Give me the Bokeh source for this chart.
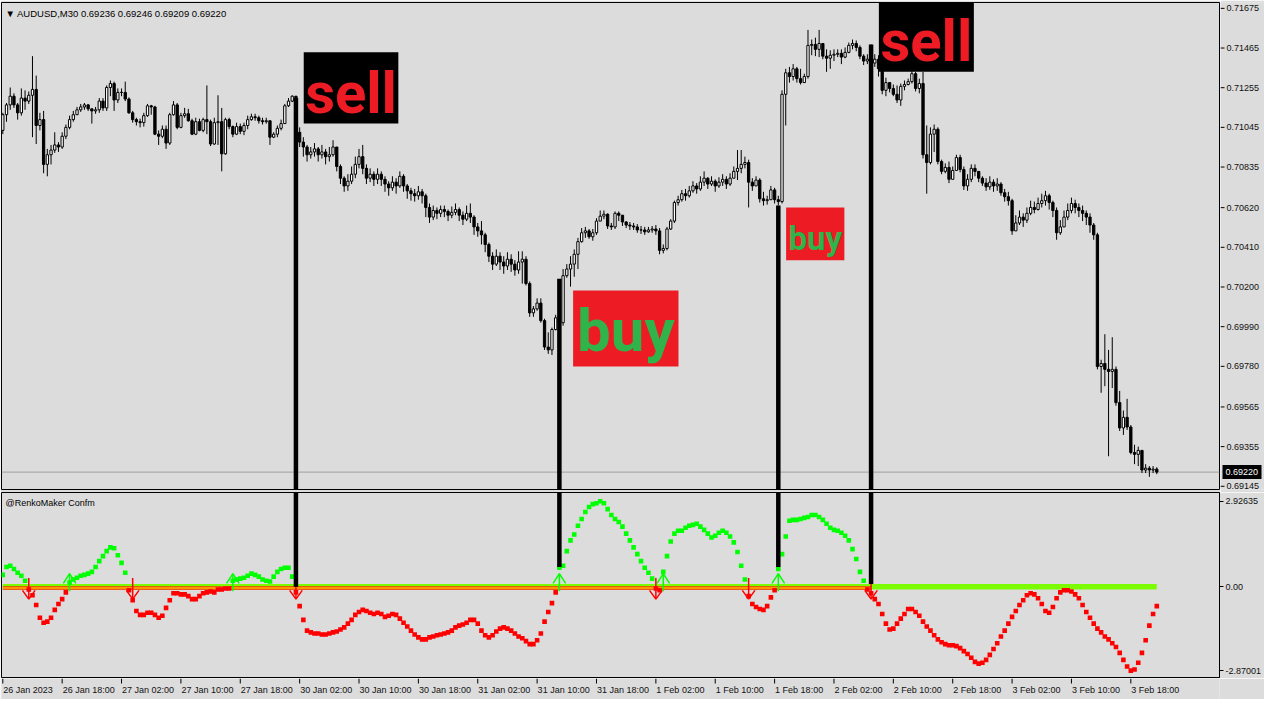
import numpy as np
from bokeh.plotting import figure
from bokeh.layouts import column, row
from bokeh.models import Range1d, FixedTicker, Label, Span, ColumnDataSource
from bokeh.core.properties import value
from bokeh.embed import file_html
from bokeh.resources import INLINE

BG = "#dcdcdc"
TICK_FONT = "Liberation Sans"

# ---------------- data (AUDUSD M30, prices in points = 1e-5) ----------------
first_open = 71029
close_pts = [
    71112, 71164, 71210, 71164, 71122, 71200, 71184, 71215, 71246, 71055,
    71086, 70849, 70900, 70925, 70952, 70941, 70998, 71045, 71086, 71112,
    71138, 71153, 71164, 71143, 71132, 71138, 71184, 71148, 71256, 71277,
    71190, 71230, 71230, 71195, 71122, 71086, 71075, 71070, 71107, 71159,
    71153, 71009, 70998, 71035, 70962, 71112, 71164, 71045, 71107, 71117,
    71080, 71009, 71075, 71029, 71086, 71075, 70957, 71070, 71075, 70905,
    71086, 71049, 71009, 71049, 71024, 71055, 71086, 71101, 71096, 71080,
    71075, 71080, 70993, 71009, 71040, 71065, 71159, 71184, 71210, 71019,
    70967, 70941, 70900, 70915, 70931, 70900, 70915, 70890, 70900, 70941,
    70838, 70776, 70735, 70760, 70797, 70849, 70890, 70828, 70776, 70797,
    70770, 70797, 70770, 70745, 70725, 70755, 70735, 70786, 70735, 70709,
    70694, 70683, 70704, 70683, 70621, 70570, 70605, 70590, 70610, 70600,
    70580, 70595, 70610, 70580, 70559, 70590, 70570, 70518, 70497, 70476,
    70425, 70363, 70321, 70363, 70332, 70311, 70347, 70321, 70290, 70332,
    70347, 70218, 70063, 70084, 70115, 70022, 69882, 69867, 69975, 70037,
    70011, 70260, 70295, 70321, 70373, 70440, 70487, 70497, 70466, 70487,
    70549, 70575, 70585, 70523, 70518, 70590, 70580, 70544, 70528, 70523,
    70518, 70502, 70502, 70492, 70502, 70507, 70497, 70394, 70404, 70507,
    70549, 70647, 70662, 70694, 70683, 70709, 70735, 70719, 70755, 70776,
    70745, 70760, 70735, 70755, 70770, 70745, 70776, 70812, 70828, 70849,
    70859, 70755, 70735, 70766, 70667, 70657, 70662, 70714, 70662, 70652,
    71220, 71334, 71314, 71355, 71303, 71282, 71314, 71479, 71484, 71458,
    71489, 71422, 71411, 71427, 71432, 71437, 71417, 71442, 71479, 71489,
    71468, 71422, 71396, 71406, 71385, 71406, 71355, 71241, 71282, 71251,
    71220, 71190, 71262, 71272, 71287, 71329, 71251, 71277, 70900, 70859,
    71009, 71035, 70864, 70812, 70833, 70770, 70817, 70885, 70822, 70735,
    70770, 70828, 70812, 70776, 70750, 70730, 70755, 70735, 70745, 70699,
    70678, 70657, 70497, 70539, 70570, 70554, 70590, 70621, 70610, 70642,
    70657, 70683, 70647, 70605, 70487, 70518, 70570, 70605, 70642, 70621,
    70605, 70590, 70570, 70528, 70476, 69779, 69795, 69764, 69753, 69764,
    69588, 69454, 69510, 69459, 69324, 69314, 69335, 69231, 69241, 69231,
    69236, 69220]
high_pts = [
    71122, 71174, 71256, 71225, 71174, 71251, 71241, 71235, 71422, 71319,
    71122, 71132, 70931, 70952, 71019, 70967, 71019, 71060, 71107, 71132,
    71153, 71169, 71174, 71169, 71143, 71153, 71200, 71200, 71267, 71293,
    71287, 71251, 71251, 71287, 71204, 71132, 71096, 71091, 71122, 71169,
    71164, 71159, 71029, 71055, 71055, 71122, 71184, 71174, 71122, 71148,
    71143, 71091, 71096, 71091, 71096, 71267, 71086, 71096, 71215, 71148,
    71096, 71096, 71055, 71070, 71065, 71070, 71107, 71117, 71117, 71107,
    71096, 71096, 71014, 71019, 71055, 71086, 71169, 71200, 71215, 71210,
    71045, 70993, 70952, 70941, 70962, 70941, 70952, 70931, 70941, 70977,
    70941, 70849, 70786, 70797, 70838, 70890, 70931, 70952, 70849, 70828,
    70812, 70828, 70812, 70786, 70760, 70786, 70776, 70812, 70797, 70745,
    70725, 70719, 70735, 70719, 70694, 70642, 70631, 70621, 70631, 70631,
    70610, 70626, 70642, 70621, 70600, 70631, 70642, 70580, 70539, 70549,
    70487, 70435, 70384, 70399, 70384, 70363, 70384, 70373, 70342, 70389,
    70389, 70363, 70229, 70099, 70140, 70140, 70032, 69960, 69985, 70053,
    70234, 70295, 70321, 70363, 70399, 70460, 70512, 70518, 70507, 70507,
    70564, 70605, 70605, 70590, 70539, 70600, 70600, 70570, 70549, 70544,
    70539, 70533, 70523, 70518, 70518, 70523, 70528, 70512, 70425, 70518,
    70559, 70657, 70683, 70714, 70719, 70735, 70760, 70750, 70786, 70812,
    70781, 70786, 70770, 70781, 70797, 70786, 70802, 70838, 70925, 70925,
    70890, 70874, 70776, 70786, 70776, 70704, 70683, 70735, 70725, 70683,
    71241, 71355, 71365, 71380, 71365, 71355, 71329, 71561, 71510, 71520,
    71561, 71484, 71458, 71453, 71458, 71458, 71458, 71468, 71494, 71510,
    71505, 71479, 71432, 71432, 71484, 71432, 71427, 71324, 71308, 71282,
    71272, 71267, 71277, 71293, 71303, 71345, 71339, 71303, 71339, 71055,
    71045, 71060, 71045, 70874, 70854, 70864, 70838, 70900, 70900, 70838,
    70797, 70849, 70849, 70812, 70786, 70776, 70786, 70770, 70776, 70755,
    70719, 70704, 70667, 70580, 70605, 70590, 70621, 70657, 70652, 70673,
    70694, 70709, 70694, 70657, 70621, 70554, 70605, 70642, 70673, 70662,
    70642, 70631, 70605, 70590, 70539, 70487, 69815, 69950, 69867, 69934,
    69779, 69650, 69546, 69608, 69469, 69365, 69355, 69330, 69262, 69252,
    69252, 69246]
low_pts = [
    71009, 71075, 71138, 71148, 71086, 71107, 71138, 71169, 70993, 70957,
    71029, 70802, 70786, 70849, 70910, 70915, 70931, 70983, 71035, 71075,
    71112, 71127, 71138, 71132, 71065, 71117, 71122, 71132, 71132, 71210,
    71132, 71174, 71210, 71184, 71117, 71070, 71055, 71045, 71049, 71101,
    71112, 71004, 70952, 70988, 70931, 70952, 71107, 71035, 71040, 71096,
    71075, 71004, 71004, 71024, 71019, 71009, 70946, 70952, 70952, 70812,
    70900, 71035, 70993, 71004, 71009, 71004, 71035, 71080, 71080, 71065,
    71060, 71065, 70952, 70988, 70993, 71029, 71065, 71153, 71179, 70993,
    70941, 70890, 70864, 70880, 70890, 70864, 70880, 70849, 70864, 70890,
    70812, 70745, 70704, 70709, 70745, 70776, 70828, 70797, 70745, 70755,
    70735, 70745, 70735, 70704, 70683, 70709, 70694, 70725, 70704, 70667,
    70657, 70652, 70662, 70642, 70570, 70539, 70554, 70559, 70570, 70570,
    70549, 70564, 70580, 70549, 70528, 70549, 70539, 70476, 70466, 70425,
    70384, 70332, 70290, 70311, 70290, 70270, 70290, 70280, 70260, 70270,
    70218, 70208, 70042, 70042, 70074, 70011, 69867, 69846, 69840, 69970,
    69934, 69995, 70249, 70202, 70254, 70295, 70435, 70460, 70455, 70445,
    70476, 70549, 70559, 70507, 70502, 70507, 70549, 70523, 70512, 70502,
    70502, 70487, 70481, 70476, 70487, 70487, 70476, 70373, 70378, 70394,
    70502, 70539, 70631, 70652, 70657, 70673, 70699, 70694, 70709, 70735,
    70719, 70735, 70704, 70725, 70735, 70719, 70735, 70776, 70766, 70802,
    70828, 70621, 70709, 70735, 70647, 70631, 70636, 70667, 70642, 70631,
    70642, 71055, 71282, 71293, 71282, 71272, 71293, 71303, 71427, 71422,
    71417, 71406, 71339, 71355, 71396, 71417, 71380, 71411, 71437, 71458,
    71448, 71406, 71375, 71380, 71365, 71365, 71314, 71220, 71210, 71230,
    71210, 71174, 71159, 71241, 71267, 71277, 71235, 71225, 70880, 70694,
    70849, 70915, 70849, 70797, 70802, 70750, 70791, 70849, 70807, 70714,
    70709, 70755, 70786, 70755, 70735, 70709, 70714, 70704, 70709, 70683,
    70652, 70631, 70476, 70497, 70528, 70518, 70539, 70580, 70590, 70605,
    70621, 70631, 70610, 70570, 70450, 70476, 70518, 70554, 70590, 70590,
    70570, 70549, 70528, 70487, 70450, 69764, 69640, 69675, 69304, 69665,
    69572, 69438, 69417, 69443, 69314, 69262, 69252, 69215, 69215, 69195,
    69215, 69209]

# @RenkoMaker Confm indicator value per bar
indicator = [
    0.41, 0.68, 0.72, 0.61, 0.48, 0.38, 0.21, -0.09, -0.29, -0.62,
    -1.06, -1.23, -1.19, -1.06, -0.79, -0.59, -0.42, -0.19, 0.15, 0.25,
    0.31, 0.38, 0.41, 0.45, 0.51, 0.68, 0.88, 1.05, 1.22, 1.35,
    1.32, 1.08, 0.82, 0.48, -0.12, -0.46, -0.83, -0.96, -0.96, -0.89,
    -0.89, -0.96, -1.06, -0.99, -0.72, -0.46, -0.22, -0.22, -0.26, -0.26,
    -0.32, -0.42, -0.42, -0.32, -0.22, -0.19, -0.16, -0.19, -0.09, -0.09,
    -0.06, -0.06, 0.21, 0.25, 0.28, 0.31, 0.38, 0.45, 0.41, 0.35,
    0.25, 0.21, 0.18, 0.35, 0.51, 0.61, 0.65, 0.65, 0.35, -0.19,
    -0.66, -1.13, -1.50, -1.56, -1.60, -1.60, -1.63, -1.63, -1.60, -1.56,
    -1.53, -1.46, -1.39, -1.26, -1.13, -0.96, -0.86, -0.79, -0.83, -0.89,
    -0.93, -0.89, -0.93, -1.03, -0.99, -0.93, -0.96, -1.09, -1.23, -1.36,
    -1.50, -1.63, -1.73, -1.80, -1.80, -1.73, -1.70, -1.66, -1.63, -1.60,
    -1.56, -1.50, -1.39, -1.33, -1.29, -1.23, -1.13, -1.13, -1.26, -1.50,
    -1.66, -1.73, -1.66, -1.53, -1.43, -1.39, -1.43, -1.50, -1.60, -1.70,
    -1.76, -1.86, -1.96, -1.96, -1.83, -1.60, -1.19, -0.86, -0.56, -0.19,
    0.65, 0.72, 1.22, 1.59, 1.79, 2.09, 2.32, 2.56, 2.73, 2.83,
    2.86, 2.93, 2.86, 2.66, 2.46, 2.32, 2.22, 2.06, 1.82, 1.59,
    1.35, 1.12, 0.88, 0.65, 0.48, 0.28, -0.06, -0.12, 0.51, 1.05,
    1.55, 1.82, 1.92, 1.92, 2.02, 2.09, 2.12, 2.16, 2.06, 1.95,
    1.82, 1.69, 1.75, 1.85, 1.92, 1.85, 1.72, 1.52, 1.19, 0.72,
    0.25, -0.32, -0.59, -0.69, -0.76, -0.79, -0.66, -0.36, -0.12, 0.61,
    1.12, 1.72, 2.26, 2.29, 2.29, 2.32, 2.36, 2.39, 2.46, 2.46,
    2.39, 2.29, 2.16, 2.02, 1.95, 1.92, 1.85, 1.75, 1.59, 1.29,
    0.95, 0.51, 0.21, -0.09, -0.22, -0.42, -0.59, -0.93, -1.26, -1.46,
    -1.43, -1.26, -1.09, -0.93, -0.76, -0.76, -0.86, -0.99, -1.19, -1.36,
    -1.50, -1.66, -1.80, -1.90, -1.96, -2.00, -2.00, -2.03, -2.10, -2.20,
    -2.30, -2.43, -2.57, -2.63, -2.60, -2.50, -2.33, -2.13, -1.93, -1.70,
    -1.50, -1.26, -1.03, -0.83, -0.62, -0.46, -0.29, -0.22, -0.26, -0.39,
    -0.59, -0.83, -0.89, -0.69, -0.39, -0.19, -0.12, -0.12, -0.16, -0.26,
    -0.39, -0.62, -0.86, -1.06, -1.26, -1.43, -1.56, -1.70, -1.80, -1.93,
    -2.06, -2.26, -2.50, -2.73, -2.87, -2.83, -2.60, -2.26, -1.83, -1.33,
    -0.93, -0.66]

time_tick_bars = list(range(0, 305, 16))
time_labels = ["26 Jan 2023", "26 Jan 18:00", "27 Jan 02:00", "27 Jan 10:00",
               "27 Jan 18:00", "30 Jan 02:00", "30 Jan 10:00", "30 Jan 18:00",
               "31 Jan 02:00", "31 Jan 10:00", "31 Jan 18:00", "1 Feb 02:00",
               "1 Feb 10:00", "1 Feb 18:00", "2 Feb 02:00", "2 Feb 10:00",
               "2 Feb 18:00", "3 Feb 02:00", "3 Feb 10:00", "3 Feb 18:00"]
price_ticks = [0.71675, 0.71465, 0.71255, 0.71045, 0.70835, 0.70620, 0.70410,
               0.70200, 0.69990, 0.69780, 0.69565, 0.69355, 0.69145]
ind_ticks = [2.92635, 0.0, -2.87001]
ind_tick_labels = ["2.92635", "0.00", "-2.87001"]

buy_arrow_bars = [18, 62, 150, 178, 209]
sell_arrow_bars = [7, 35, 79, 176, 201, 234]
signal_bars = [79, 150, 209, 234]
signal_top = [0.71200, 0.70244, 0.70631, 0.71484]
signal_ind_end = [0.0, 0.68, 0.68, 0.10]

note_text = ["sell", "buy", "buy", "sell"]
note_left = [81.1, 153.7, 211.1, 236.1]
note_right = [106.6, 182.1, 226.8, 261.7]
note_top = [0.71442, 0.70182, 0.70621, 0.71760]
note_bottom = [0.71065, 0.69779, 0.70342, 0.71339]
note_base = [0.71117, 0.69856, 0.70394, 0.71390]
note_size = [58, 60, 33, 58]
note_fill = ["#000000", "#ed1c24", "#ed1c24", "#000000"]
note_color = ["#ed1c24", "#2fb34a", "#2fb34a", "#ed1c24"]

header_text = "\u25bc AUDUSD,M30 0.69236 0.69246 0.69209 0.69220"
ind_name = "@RenkoMaker Confm"

# ---------------- derived series ----------------
n = len(close_pts)
bars = list(range(n))
o = np.array([first_open] + close_pts[:-1]) / 1e5
c = np.array(close_pts) / 1e5
h = np.maximum.reduce([np.array(high_pts) / 1e5, o, c])
l = np.minimum.reduce([np.array(low_pts) / 1e5, o, c])
body_top = np.maximum(o, c)
body_bot = np.minimum(o, c)
body_fill = ["white" if cc >= oo else "black" for oo, cc in zip(o, c)]

# ---------------- layout constants ----------------
X0, X1 = -0.35, 327.9
FW = 1218
AXW = 44
MAIN_FH = 487
IND_FH = 185
STRIP_H = 21
Y0, Y1 = 0.69128, 0.71706
IY0, IY1 = -3.104, 3.228
dx = (X1 - X0) / FW
dy = (Y1 - Y0) / MAIN_FH
dyi = (IY1 - IY0) / IND_FH

xr = Range1d(X0, X1)
yr = Range1d(Y0, Y1)

base_kw = dict(toolbar_location=None, output_backend="svg", tools="",
               background_fill_color=BG, border_fill_color=BG)


def txt(fig, x, y, text, color="#111111", size="9px", align="left"):
    fig.text(x=x, y=y, text=text, text_align=align, text_baseline="middle",
             text_font=value(TICK_FONT), text_font_size=size, text_color=color)


# ---------------- main price chart ----------------
main = figure(frame_width=FW, frame_height=MAIN_FH, x_range=xr, y_range=yr,
              x_axis_location=None, y_axis_location=None,
              min_border_left=1, min_border_right=1,
              min_border_top=2, min_border_bottom=3,
              outline_line_color="black", **base_kw)
main.grid.visible = False

main.add_layout(Span(location=c[-1], dimension="width", line_color="#a0a0a0",
                     line_width=1, level="underlay"))

src = ColumnDataSource(dict(x=bars, top=body_top, bottom=body_bot,
                            high=h, low=l, fill=body_fill))
main.segment(x0="x", y0="high", x1="x", y1="low", source=src,
             line_color="black", line_width=1)
main.vbar(x="x", width=0.62, top="top", bottom="bottom", source=src,
          fill_color="fill", line_color="black", line_width=1)

main.segment(x0=signal_bars, y0=signal_top, x1=signal_bars,
             y1=[Y0 - 0.001] * len(signal_bars), line_color="black", line_width=4.5)

main.quad(left=note_left, right=note_right, top=note_top, bottom=note_bottom,
          fill_color=note_fill, line_color=None)
for t, lft, rgt, base, size, col in zip(note_text, note_left, note_right,
                                        note_base, note_size, note_color):
    main.add_layout(Label(x=(lft + rgt) / 2, y=base + 0.36 * size * dy, text=t,
                          text_align="center", text_baseline="alphabetic",
                          text_font="Roboto", text_font_style="bold",
                          text_font_size="%dpx" % size, text_color=col))

main.add_layout(Label(x=X0 + 4 * dx, y=Y1 - 11 * dy, text=header_text,
                      text_baseline="middle", text_align="left",
                      text_font=TICK_FONT, text_font_size="9.5px",
                      text_color="black"))

# right price scale (own panel sharing the price range)
axfig = figure(frame_width=AXW, frame_height=MAIN_FH, x_range=Range1d(0, AXW),
               y_range=yr, x_axis_location=None, y_axis_location=None,
               min_border_left=0, min_border_right=0,
               min_border_top=2, min_border_bottom=3,
               outline_line_color=None, **base_kw)
axfig.grid.visible = False
axfig.segment(x0=0, y0=price_ticks, x1=4, y1=price_ticks, line_color="black",
              line_width=1)
txt(axfig, 6, price_ticks, ["%.5f" % t for t in price_ticks])
cp = c[-1]
axfig.quad(left=[2], right=[41], top=[cp + 7 * dy], bottom=[cp - 7 * dy],
           fill_color="black", line_color=None)
txt(axfig, 5, [cp], ["%.5f" % cp], color="white")

# ---------------- indicator panel ----------------
ind = figure(frame_width=FW, frame_height=IND_FH, x_range=xr,
             y_range=Range1d(IY0, IY1), x_axis_location=None,
             y_axis_location="right", min_border_left=1, min_border_right=45,
             min_border_top=0, min_border_bottom=1,
             outline_line_color="black", **base_kw)
ind.grid.visible = False
iya = ind.yaxis[0]
iya.ticker = FixedTicker(ticks=ind_ticks)
iya.major_label_overrides = {v: s for v, s in zip(ind_ticks, ind_tick_labels)}
iya.axis_line_color = "black"
iya.major_tick_out = 4
iya.major_tick_in = 0
iya.minor_tick_out = 0
iya.minor_tick_in = 0
iya.major_label_text_font = TICK_FONT
iya.major_label_text_font_size = "9px"
iya.major_label_text_color = "#111111"
iya.major_label_standoff = 2

ind.line(x=[bars[0], bars[-1]], y=[0.0, 0.0], line_color="#7cfc00", line_width=5.5)
ind.line(x=[bars[0], signal_bars[-1]], y=[-0.04, -0.04], line_color="#ff2a00",
         line_width=3.5)
ind.line(x=[bars[0], signal_bars[-1]], y=[-0.04, -0.04], line_color="#ffff00",
         line_width=1.2)

sq_colors = ["#00ff00" if v > 0 else "#ff0000" for v in indicator]
ind.scatter(x=bars, y=indicator, marker="square", size=4.6,
            fill_color=sq_colors, line_color=None)

up_xs, up_ys, dn_xs, dn_ys = [], [], [], []
for b in buy_arrow_bars:
    up_xs += [[b, b], [b - 1.7, b, b + 1.7]]
    up_ys += [[-0.15, 0.45], [0.12, 0.45, 0.12]]
for b in sell_arrow_bars:
    dn_xs += [[b, b], [b - 1.7, b, b + 1.7]]
    dn_ys += [[0.3, -0.42], [-0.12, -0.42, -0.12]]
ind.multi_line(xs=up_xs, ys=up_ys, line_color="#00ff00", line_width=1.5)
ind.multi_line(xs=dn_xs, ys=dn_ys, line_color="#ff0000", line_width=1.5)

ind.segment(x0=signal_bars, y0=[IY1 + 0.1] * len(signal_bars), x1=signal_bars,
            y1=signal_ind_end, line_color="black", line_width=4.5)

ind.add_layout(Label(x=X0 + 4 * dx, y=IY1 - 10 * dyi, text=ind_name,
                     text_baseline="middle", text_align="left",
                     text_font=TICK_FONT, text_font_size="9px",
                     text_color="black"))

# ---------------- time scale strip ----------------
strip = figure(frame_width=FW, frame_height=STRIP_H, x_range=xr,
               y_range=Range1d(0, STRIP_H), x_axis_location=None,
               y_axis_location=None, min_border_left=1, min_border_right=45,
               min_border_top=0, min_border_bottom=0,
               outline_line_color=None, **base_kw)
strip.grid.visible = False
strip.segment(x0=time_tick_bars, y0=STRIP_H, x1=time_tick_bars, y1=STRIP_H - 5,
              line_color="black", line_width=1)
txt(strip, [b + 0.5 * dx for b in time_tick_bars], STRIP_H - 11, time_labels)

layout = column(row(main, axfig, spacing=0), ind, strip, spacing=0)
open("out.html", "w").write(file_html(layout, INLINE))
